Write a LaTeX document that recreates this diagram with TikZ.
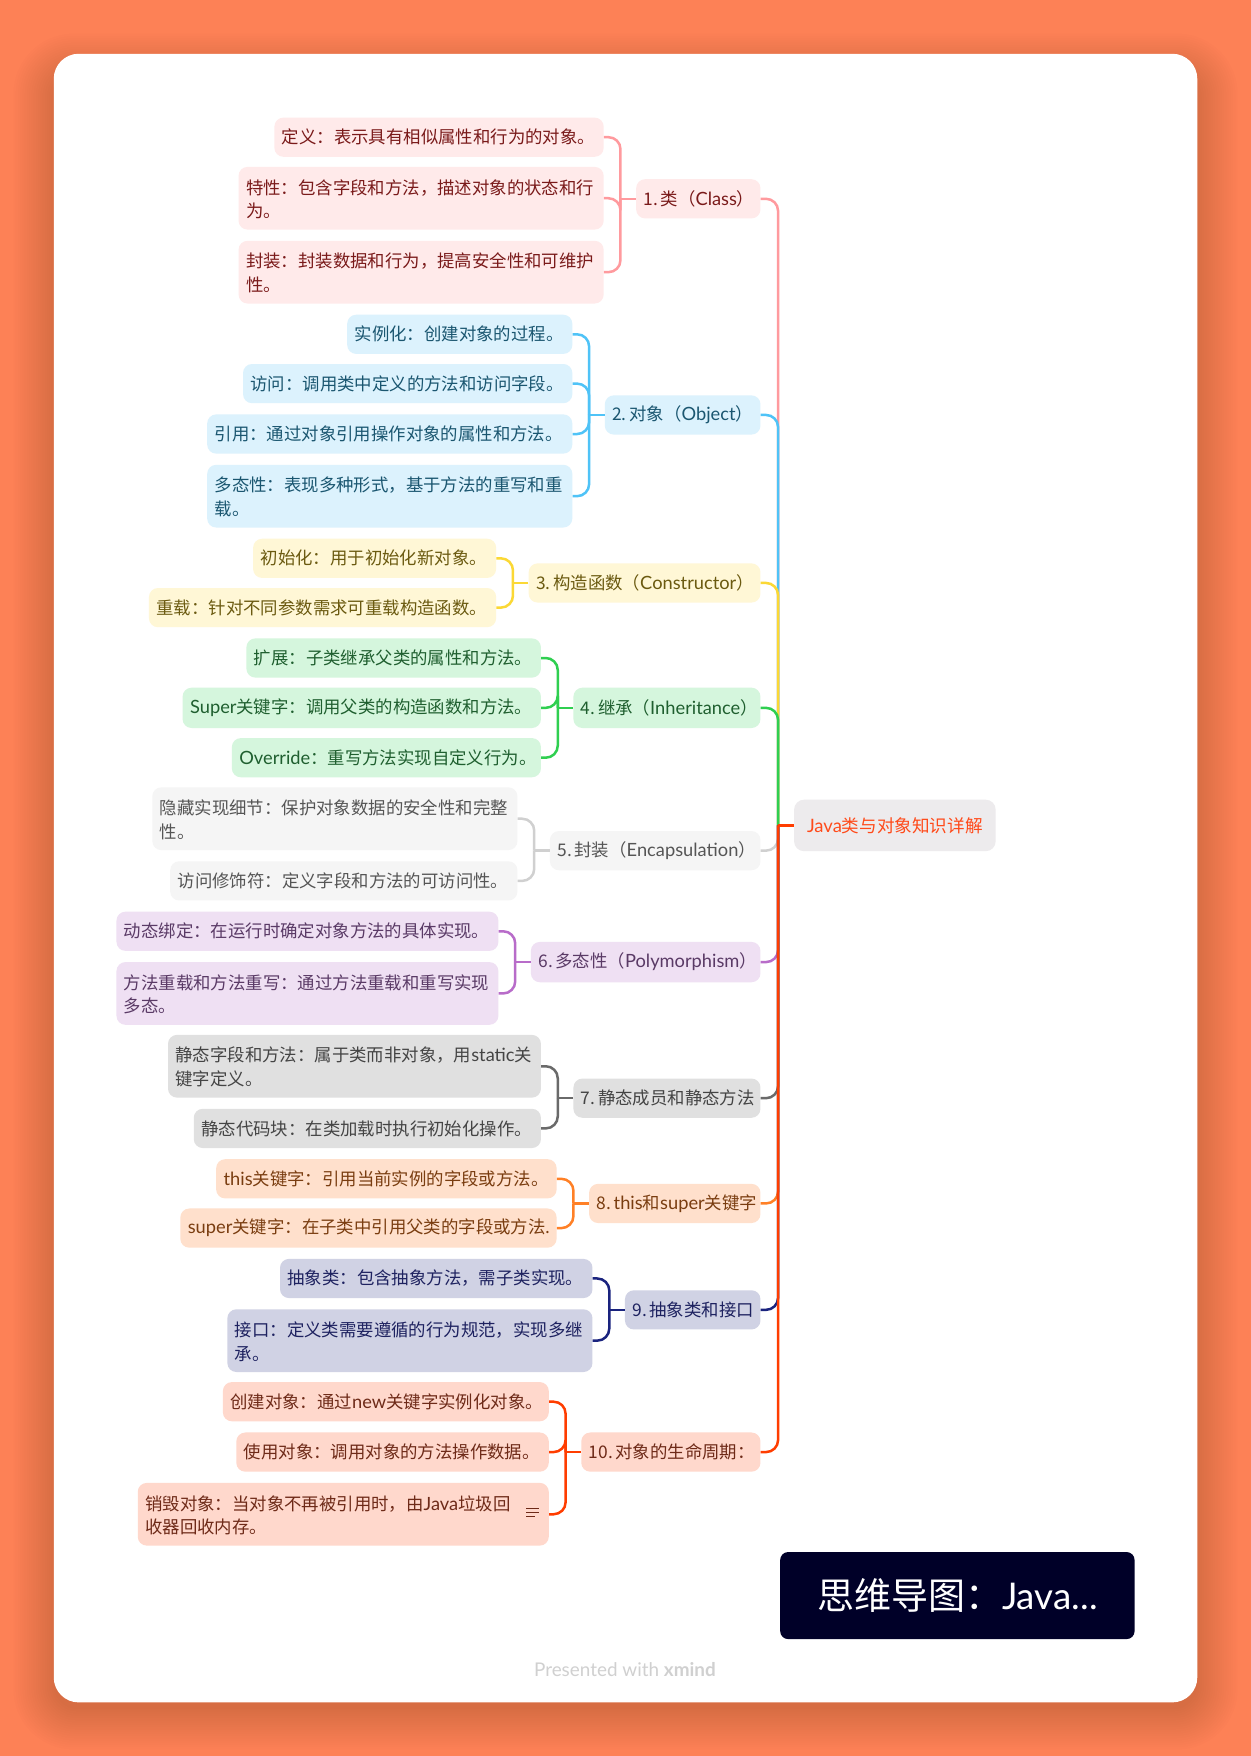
\documentclass[tikz,border=0pt]{standalone}
\usepackage{fontspec}
\setmainfont{Noto Sans CJK SC}
\newfontfamily\latf[Scale=1.05]{Lato}
\newcommand{\LL}[1]{{\latf #1}}
\newcommand{\nb}{{\latf\spaceskip=2.6pt\relax~}}
\definecolor{bgc}{HTML}{FD8156}
\definecolor{badgec}{HTML}{000028}
\definecolor{footc}{HTML}{D0D0D0}
\definecolor{rootfill}{HTML}{EDEBED}
\definecolor{roottext}{HTML}{FF4A1A}
\definecolor{fa}{HTML}{FFEAEA}\definecolor{ta}{HTML}{7A1A1A}\definecolor{la}{HTML}{FF9A9E}
\definecolor{fb}{HTML}{DCF2FD}\definecolor{tb}{HTML}{1A5670}\definecolor{lb}{HTML}{4FC3F7}
\definecolor{fc}{HTML}{FFF7D6}\definecolor{tc}{HTML}{6B5A10}\definecolor{lc}{HTML}{FBD835}
\definecolor{fd}{HTML}{D5F6DD}\definecolor{td}{HTML}{1F5F2F}\definecolor{ld}{HTML}{2FCF50}
\definecolor{fe}{HTML}{F5F5F5}\definecolor{te}{HTML}{555555}\definecolor{le}{HTML}{D0D0D0}
\definecolor{ff}{HTML}{EFE0F3}\definecolor{tf}{HTML}{5A3A66}\definecolor{lf}{HTML}{B86CC9}
\definecolor{fg}{HTML}{E0E0E0}\definecolor{tg}{HTML}{444444}\definecolor{lg}{HTML}{6A6A6A}
\definecolor{fh}{HTML}{FFE0CC}\definecolor{th}{HTML}{7A3D10}\definecolor{lh}{HTML}{FF8026}
\definecolor{fi}{HTML}{D0D2E4}\definecolor{ti}{HTML}{1E2260}\definecolor{li}{HTML}{1A237E}
\definecolor{fj}{HTML}{FFD8CC}\definecolor{tj}{HTML}{6E2A18}\definecolor{lj}{HTML}{FF3D00}
\newcommand{\mmbox}[7]{%
  \pgfmathsetmacro\bxW{(#4-#2)*1.12}%
  \pgfmathsetmacro\bxH{(#5-#3)*1.12}%
  \pgfmathsetmacro\bxT{(#4-#2)*1.12-15}%
  \ifdim\bxH pt>50pt \def\bxS{\strut}\else\def\bxS{}\fi
  \node[topic=#6, minimum width=\bxW pt, minimum height=\bxH pt, text width=\bxT pt] (#1) at ({(#2+#4)/2},{(#3+#5)/2}) {\bxS #7};}
\newcommand{\kid}[3]{\draw[conn=#3] (#2) -- (#2 |- #1.east) -- (#1.east);}
\tikzset{
  topic/.style={fill=f#1, text=t#1, rounded corners=9pt, inner xsep=7.5pt, inner ysep=0pt, align=left,
     font=\fontsize{17.4}{23.6}\selectfont},
  conn/.style={draw=#1, line width=2.5pt, rounded corners=12pt},
  stub/.style={draw=#1, line width=2.5pt},
}
\begin{document}
\begin{tikzpicture}[x=1.12pt,y=-1.12pt]
\useasboundingbox (0,0) rectangle (1116.96,1567.86);
\fill[bgc] (0,0) rectangle (1116.96,1567.86);
% card shadow
\foreach \s in {0,2,...,36}{
  \fill[black,opacity=0.0075,rounded corners={(24+\s)*1pt}] (48-\s,48-\s+18) rectangle (1069+\s,1520+\s+6);
}
\fill[white,rounded corners=25pt] (48,48) rectangle (1069,1520);

% root
\node[fill=rootfill,text=roottext,rounded corners=10pt,minimum width=201.6pt,minimum height=51.5pt,inner sep=0pt,font=\fontsize{17.6}{22}\selectfont] (root) at (799,737) {{\latf Java}类与对象知识详解};

% main topics
\mmbox{n1}{568}{160}{679}{195}{a}{1.\nb 类（\LL{Class}）}
\mmbox{n2}{540}{353}{679}{388}{b}{2.\nb 对象（\LL{Object}）}
\mmbox{n3}{472}{503}{679}{538}{c}{3.\nb 构造函数（\LL{Constructor}）}
\mmbox{n4}{512}{614}{679}{650}{d}{4.\nb 继承（\LL{Inheritance}）}
\mmbox{n5}{491}{742}{679}{777}{e}{5.\nb 封装（\LL{Encapsulation}）}
\mmbox{n6}{474}{841}{679}{877}{f}{6.\nb 多态性（\LL{Polymorphism}）}
\mmbox{n7}{512}{963}{679}{998}{g}{7.\nb 静态成员和静态方法}
\mmbox{n8}{526}{1057}{679}{1092}{h}{8.\nb \LL{this}和\LL{super}关键字}
\mmbox{n9}{558}{1152}{679}{1187}{i}{9.\nb 抽象类和接口}
\mmbox{n10}{519}{1279}{679}{1314}{j}{10.\nb 对象的生命周期：}

% subtopics
\mmbox{a1}{245}{105}{539}{140}{a}{定义：表示具有相似属性和行为的对象。}
\mmbox{a2}{213}{149}{539}{205}{a}{特性：包含字段和方法，描述对象的状态和行\\为。}
\mmbox{a3}{213}{215}{539}{271}{a}{封装：封装数据和行为，提高安全性和可维护\\性。}
\mmbox{b1}{310}{281}{511}{316}{b}{实例化：创建对象的过程。}
\mmbox{b2}{217}{325}{511}{360}{b}{访问：调用类中定义的方法和访问字段。}
\mmbox{b3}{185}{370}{511}{405}{b}{引用：通过对象引用操作对象的属性和方法。}
\mmbox{b4}{185}{415}{511}{471}{b}{多态性：表现多种形式，基于方法的重写和重\\载。}
\mmbox{c1}{226}{481}{443}{516}{c}{初始化：用于初始化新对象。}
\mmbox{c2}{133}{525}{443}{560}{c}{重载：针对不同参数需求可重载构造函数。}
\mmbox{d1}{220}{570}{483}{605}{d}{扩展：子类继承父类的属性和方法。}
\mmbox{d2}{163}{614}{483}{650}{d}{\LL{Super}关键字：调用父类的构造函数和方法。}
\mmbox{d3}{207}{659}{483}{694}{d}{\LL{Override}：重写方法实现自定义行为。}
\mmbox{e1}{136}{703}{462}{759}{e}{隐藏实现细节：保护对象数据的安全性和完整\\性。}
\mmbox{e2}{152}{769}{462}{804}{e}{访问修饰符：定义字段和方法的可访问性。}
\mmbox{f1}{104}{814}{445}{849}{f}{动态绑定：在运行时确定对象方法的具体实现。}
\mmbox{f2}{104}{859}{445}{915}{f}{方法重载和方法重写：通过方法重载和重写实现\\多态。}
\mmbox{g1}{150}{924}{483}{980}{g}{静态字段和方法：属于类而非对象，用\LL{static}关\\键字定义。}
\mmbox{g2}{173}{990}{483}{1025}{g}{静态代码块：在类加载时执行初始化操作。}
\mmbox{h1}{193}{1035}{497}{1070}{h}{\LL{this}关键字：引用当前实例的字段或方法。}
\mmbox{h2}{161}{1079}{497}{1114}{h}{\LL{super}关键字：在子类中引用父类的字段或方法.}
\mmbox{i1}{250}{1124}{529}{1159}{i}{抽象类：包含抽象方法，需子类实现。}
\mmbox{i2}{203}{1169}{529}{1225}{i}{接口：定义类需要遵循的行为规范，实现多继\\承。}
\mmbox{j1}{199}{1234}{490}{1269}{j}{创建对象：通过\LL{new}关键字实例化对象。}
\mmbox{j2}{211}{1279}{490}{1314}{j}{使用对象：调用对象的方法操作数据。}
\mmbox{j3}{123}{1324}{490}{1380}{j}{销毁对象：当对象不再被引用时，由\LL{Java}垃圾回\\收器回收内存。}

% junctions
\coordinate (trunk) at (694.7,737);
\coordinate (ja) at (554,177.5);
\coordinate (jb) at (526,370.5);
\coordinate (jc) at (458,520.5);
\coordinate (jd) at (498,632);
\coordinate (je) at (477,759.5);
\coordinate (jf) at (460,859);
\coordinate (jg) at (498,980.5);
\coordinate (jh) at (512,1074.5);
\coordinate (ji) at (544,1169.5);
\coordinate (jj) at (505,1296.5);

% root to main topics
\kid{n1}{trunk}{la}
\kid{n2}{trunk}{lb}
\kid{n3}{trunk}{lc}
\kid{n4}{trunk}{ld}
\kid{n5}{trunk}{le}
\kid{n6}{trunk}{lf}
\kid{n7}{trunk}{lg}
\kid{n8}{trunk}{lh}
\kid{n9}{trunk}{li}
\kid{n10}{trunk}{lj}
\draw[stub=lj] (root.west) -- (trunk);

% main topics to subtopics
\draw[stub=la] (n1.west) -- (ja);
\kid{a1}{ja}{la}\kid{a2}{ja}{la}\kid{a3}{ja}{la}
\draw[stub=lb] (n2.west) -- (jb);
\kid{b1}{jb}{lb}\kid{b2}{jb}{lb}\kid{b3}{jb}{lb}\kid{b4}{jb}{lb}
\draw[stub=lc] (n3.west) -- (jc);
\kid{c1}{jc}{lc}\kid{c2}{jc}{lc}
\draw[stub=ld] (n4.west) -- (jd);
\kid{d1}{jd}{ld}\kid{d2}{jd}{ld}\kid{d3}{jd}{ld}
\draw[stub=le] (n5.west) -- (je);
\kid{e1}{je}{le}\kid{e2}{je}{le}
\draw[stub=lf] (n6.west) -- (jf);
\kid{f1}{jf}{lf}\kid{f2}{jf}{lf}
\draw[stub=lg] (n7.west) -- (jg);
\kid{g1}{jg}{lg}\kid{g2}{jg}{lg}
\draw[stub=lh] (n8.west) -- (jh);
\kid{h1}{jh}{lh}\kid{h2}{jh}{lh}
\draw[stub=li] (n9.west) -- (ji);
\kid{i1}{ji}{li}\kid{i2}{ji}{li}
\draw[stub=lj] (n10.west) -- (jj);
\kid{j1}{jj}{lj}\kid{j2}{jj}{lj}\kid{j3}{jj}{lj}

% note icon
\draw[tj,line width=0.9pt] (470,1346.7) -- (481.6,1346.7) (470,1350.5) -- (481.6,1350.5) (470,1354) -- (477.5,1354);

% title badge
\node[fill=badgec,rounded corners=8pt,minimum width=354.4pt,minimum height=87.1pt,inner sep=0pt,text=white,font=\fontsize{37}{44}\selectfont] (badge) at (854.8,1424.6) {思维导图：{\fontsize{35}{44}\latf Java...}};

% footer
\node[text=footc,font=\fontsize{18}{20}\selectfont\latf] (footer) at (558,1491) {Presented with \textbf{xmind}};
\end{tikzpicture}
\end{document}
